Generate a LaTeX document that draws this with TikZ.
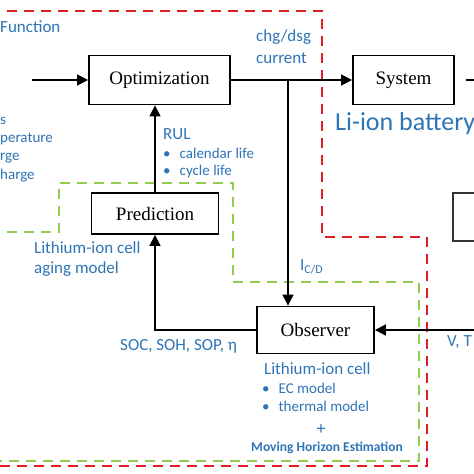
\documentclass[tikz,border=0pt]{standalone}
\usepackage{fontspec}
\setmainfont{Carlito}
\newfontfamily\boxfont{Liberation Serif}
\usetikzlibrary{arrows.meta}
\definecolor{lblue}{RGB}{46,117,182}
\definecolor{dred}{RGB}{222,30,40}
\definecolor{lgreen}{RGB}{146,204,80}
\tikzset{
  blk/.style={draw=black, line width=1.8pt, fill=white, inner sep=0pt, font=\boxfont\fontsize{19}{22}\selectfont},
  conn/.style={draw=black, line width=1.6pt},
  arr/.style={conn, -{Triangle[length=11pt,width=11pt]}},
  lbl/.style={text=lblue, inner sep=0pt, anchor=west, font=\fontsize{17}{20}\selectfont},
  sml/.style={text=lblue, inner sep=0pt, anchor=west, font=\fontsize{15}{18}\selectfont},
  redb/.style={draw=dred, line width=2.6pt, dash pattern=on 10pt off 7pt},
  grnb/.style={draw=lgreen, line width=2.2pt, dash pattern=on 10pt off 7pt},
}
\begin{document}
\begin{tikzpicture}[x=1pt,y=-1pt]
\useasboundingbox (0,0) rectangle (474,474);
\clip (0,0) rectangle (474,474);
\fill[white] (0,0) rectangle (474,474);

% dashed boundaries
\draw[redb] (-10,11) -- (322,11) -- (322,237) -- (427,237) -- (427,466) -- (-10,466);
\draw[grnb] (-10,232) -- (59,232) -- (59,183) -- (233,183) -- (233,282) -- (419,282) -- (419,461) -- (-10,461);

% boxes
\node[blk, minimum width=141pt, minimum height=49pt] (opt) at (159.5,80) {Optimization};
\node[blk, minimum width=101pt, minimum height=49pt] (sys) at (403.5,80) {System};
\node[blk, minimum width=127pt, minimum height=41pt] (pred) at (155,213.5) {Prediction};
\node[blk, minimum width=117pt, minimum height=47pt] (obs) at (315.5,330) {Observer};
\node[draw=black!80, line width=1.4pt, fill=white, minimum width=60pt, minimum height=48pt, inner sep=0pt] (sen) at (483,217) {};

% coordinates
\coordinate (inL) at (32,80);
\coordinate (outS) at (466,80);
\coordinate (outE) at (480,80);
\coordinate (br) at (288,80);
\coordinate (inR) at (480,330);

% connectors
\draw[arr] (inL) -- (opt.west);
\draw[arr] (opt.east) -- (sys.west);
\draw[conn] (outS) -- (outE);
\draw[arr] (br) -- (br |- obs.north);
\draw[arr] (pred.north) -- (pred.north |- opt.south);
\draw[arr] (obs.west) -| (pred.south);
\draw[arr] (inR) -- (obs.east);

% labels
\node[lbl] (fn) at (0,27) {Function};
\node[lbl] (chg) at (256,37) {chg/dsg};
\node[lbl] (cur) at (256,58) {current};
\node[text=lblue, inner sep=0pt, anchor=west, font=\fontsize{26}{29}\selectfont] (li) at (335,124) {Li-ion battery};
\node[lbl] (rul) at (163,134) {RUL};
\node[sml] (b1) at (163,153) {•\hspace{9pt}calendar life};
\node[sml] (b2) at (163,171) {•\hspace{9pt}cycle life};
\node[sml] (f1) at (0,121) {s};
\node[sml] (f2) at (0,139) {perature};
\node[sml] (f3) at (0,158) {rge};
\node[sml] (f4) at (0,176) {harge};
\node[lbl] (la1) at (34,248) {Lithium-ion cell};
\node[lbl] (la2) at (34,269) {aging model};
\node[lbl] (icd) at (300,267) {I\textsubscript{C/D}};
\node[lbl] (soc) at (120,346) {SOC, SOH, SOP, η};
\node[lbl] (vt) at (447,342) {V, T};
\node[lbl] (lc) at (264,369) {Lithium-ion cell};
\node[sml] (ec) at (262,388) {•\hspace{9pt}EC model};
\node[sml] (th) at (262,406) {•\hspace{9pt}thermal model};
\node[text=lblue, inner sep=0pt, font=\fontsize{18}{20}\selectfont] (plus) at (321,430) {+};
\node[text=lblue, inner sep=0pt, anchor=west, font=\bfseries\fontsize{13.5}{16}\selectfont] (mhe) at (251,448) {Moving Horizon Estimation};
\end{tikzpicture}
\end{document}
